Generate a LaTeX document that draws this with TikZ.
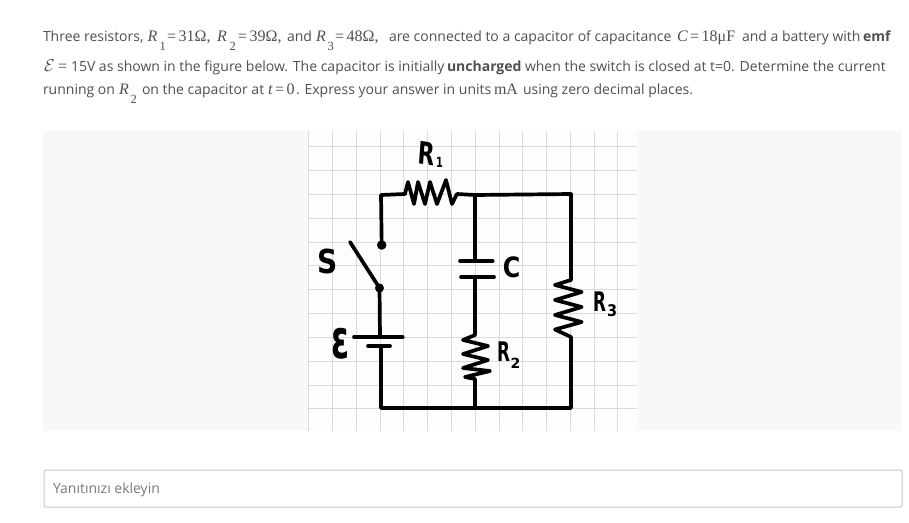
\documentclass[tikz,border=0pt]{standalone}
\usepackage{fontspec}
\setmainfont{Open Sans}
\newfontfamily\mth{Liberation Serif}
\newfontfamily\hand{DejaVu Sans}
\definecolor{bodytxt}{HTML}{505050}
\definecolor{panelbg}{HTML}{F8F8F8}
\definecolor{sheetbg}{HTML}{FDFDFD}
\definecolor{gridc}{HTML}{DADADA}
\definecolor{boxc}{HTML}{C8C8C8}
\definecolor{hint}{HTML}{7A7A7A}
\tikzset{
 x=1pt,y=-1pt,
 txt/.style={anchor=base west,inner sep=0pt,outer sep=0pt,text=bodytxt,font=\fontsize{14}{14}\selectfont},
 mth/.style={txt,font=\fontsize{16}{16}\selectfont\mth},
 mthi/.style={txt,font=\fontsize{16}{16}\selectfont\mth\itshape},
 subs/.style={txt,font=\fontsize{12.5}{12.5}\selectfont\mth},
 wire/.style={line width=3.7pt,line cap=round,line join=round,black},
 gridl/.style={gridc,line width=0.9pt},
 dotn/.style={circle,fill=black,draw=none,inner sep=0pt,minimum size=#1},
 handl/.style={anchor=center,inner sep=0pt,outer sep=0pt,text=black,font=\fontsize{#1}{#1}\selectfont\hand\bfseries},
}
\begin{document}
\begin{tikzpicture}
\useasboundingbox (0,0) rectangle (909,522);
\fill[white] (0,0) rectangle (909,522);
% panel
\fill[panelbg] (43,131) rectangle (902,431);
\fill[sheetbg] (308,131) rectangle (637,431);
\foreach \gx in {308,332.5,356,380,403.5,427,451.5,475,499,522.5,546.5,570.5,594,617.5}
  \draw[gridl] (\gx,131) -- (\gx,431);
\foreach \gy in {146.7,170,194.5,218,242,265.5,289,313,337.5,361,385,408.5}
  \draw[gridl] (308,\gy) -- (637,\gy);
% text line 1
\node[txt] (t1) at (43,41) {Three resistors,};
\node[mthi] (r1) at (147.5,41) {R};
\node[subs] (r1s) at (159.5,50) {1};
\node[mth] (v1) at (167,41) {=\,31Ω,};
\node[mthi] (r2) at (217,41) {R};
\node[subs] (r2s) at (229.5,50) {2};
\node[mth] (v2) at (238,41) {=\,39Ω,};
\node[txt] (t2) at (287,41) {and};
\node[mthi] (r3) at (316,41) {R};
\node[subs] (r3s) at (327.5,50) {3};
\node[mth] (v3) at (335,41) {=\,48Ω,};
\node[txt] (t3) at (389,41) {are connected to a capacitor of capacitance};
\node[mthi] (c) at (677,41) {C};
\node[mth] (v4) at (690,41) {=\,18μF};
\node[txt] (t4) at (742,41) {and a battery with};
\node[txt,font=\fontsize{14}{14}\selectfont\bfseries] (t5) at (863,41) {emf};
% line 2
\node[txt,font=\fontsize{16}{16}\selectfont] (e) at (44,71) {$\mathcal{E}$};
\node[mth] (eq) at (58,71) {=};
\node[txt] (t6) at (71,71) {15V as shown in the figure below. The capacitor is initially};
\node[txt,font=\fontsize{14}{14}\selectfont\bfseries] (t7) at (447,71) {uncharged};
\node[txt] (t8) at (525,71) {when the switch is closed at t=0. Determine the current};
% line 3
\node[txt] (t9) at (43,94) {running on};
\node[mthi] (r4) at (119,94) {R};
\node[subs] (r4s) at (130.5,103) {2};
\node[txt] (t10) at (142,94) {on the capacitor at};
\node[mthi] (tt) at (268,94) {t};
\node[mth] (eq2) at (275,94) {=\,0};
\node[txt] (t11) at (296,94) {. Express your answer in units};
\node[mth] (ma) at (494,94) {mA};
\node[txt] (t12) at (523,94) {using zero decimal places.};
% circuit points
\coordinate (tl) at (381,195);
\coordinate (r1a) at (405,194);
\coordinate (r1b) at (457,194);
\coordinate (jt) at (475,195);
\coordinate (tr) at (571,194);
\coordinate (r3a) at (571,280);
\coordinate (r3b) at (571,337);
\coordinate (br) at (571,408);
\coordinate (jb) at (475,408);
\coordinate (bl) at (381,408);
\coordinate (capa) at (475,261);
\coordinate (capb) at (475,277);
\coordinate (r2a) at (475,335);
\coordinate (r2b) at (475,379);
\coordinate (bata) at (380,337);
\coordinate (batb) at (381,346);
\coordinate (swfree) at (350,242);
\node[dotn=9.5pt] (swt) at (381.7,245) {};
\node[dotn=9pt] (swb) at (379.5,288) {};
% wires
\draw[wire] (swt.center) -- (tl) -- (r1a);
\draw[wire] (r1a) -- (408,182) -- (414,204) -- (418,182) -- (425,204) -- (430,182) -- (437,204) -- (446,180) -- (452,204) -- (r1b) -- (jt) -- (tr) -- (r3a);
\draw[wire] (r3a) -- (555,285) -- (581.7,292) -- (555,300) -- (581.7,307) -- (555,315) -- (581.7,322) -- (555,329.5) -- (r3b) -- (br) -- (jb) -- (bl) -- (batb);
\draw[wire] (jt) -- (capa);
\draw[wire] (460,261) -- (492.7,261);
\draw[wire] (461,277) -- (494,277);
\draw[wire] (capb) -- (r2a) -- (463,340) -- (488,346) -- (463,354) -- (488,360) -- (463,368) -- (490,371) -- (465,377) -- (r2b) -- (jb);
\draw[wire] (swb.center) -- (bata);
\draw[wire] (354,337) -- (402.7,337);
\draw[wire] (368,346) -- (390,346);
\draw[wire] (swfree) -- (swb.center);
% hand labels
\node[handl=31,xscale=0.7,rotate=-6] (lr1) at (426.5,154) {R};
\node[handl=14,xscale=0.7] (lr1s) at (439.5,162) {1};
\node[handl=33,xscale=0.85] (ls) at (328,261.5) {S};
\node[handl=28,xscale=0.85] (lc) at (511.5,267.5) {C};
\node[handl=54,xscale=0.6] (le) at (341,344) {ε};
\node[handl=27,xscale=0.62] (lr2) at (503.5,352) {R};
\node[handl=14] (lr2s) at (515.5,363) {2};
\node[handl=27,xscale=0.62] (lr3) at (599.5,302) {R};
\node[handl=16,xscale=0.9] (lr3s) at (612,311) {3};
% answer box
\node[draw=boxc,fill=white,line width=1pt,rounded corners=2pt,anchor=north west,inner sep=0pt,minimum width=858pt,minimum height=37pt] (box) at (43.5,469.5) {};
\node[txt,text=hint] (hintt) at (53,493) {Yanıtınızı ekleyin};
\end{tikzpicture}
\end{document}
